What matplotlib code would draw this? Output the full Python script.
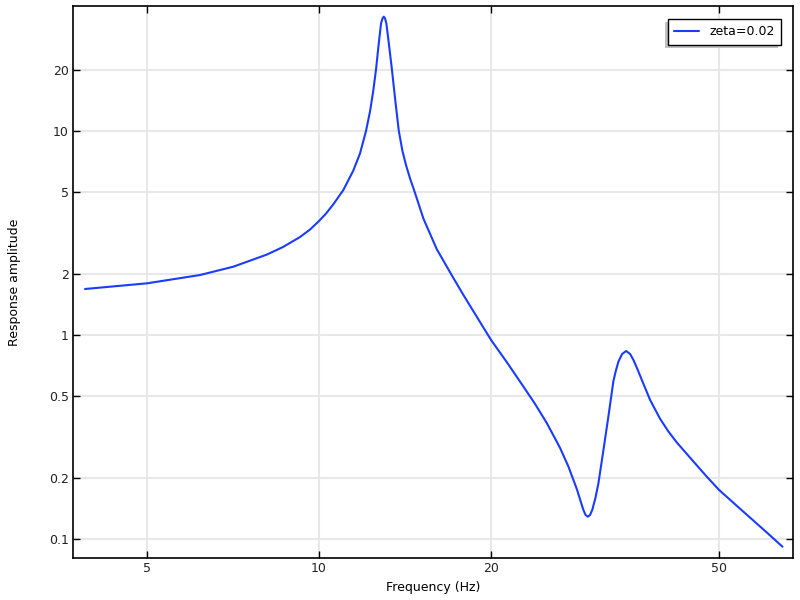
import matplotlib
matplotlib.use("Agg")
import matplotlib.pyplot as plt
from matplotlib.ticker import FixedLocator, FixedFormatter, NullLocator

freq = [3.895, 5.0, 6.19, 7.079, 8.110, 8.650, 9.262, 9.644, 10.0, 10.286, 10.593,
        11.028, 11.482, 11.797, 12.086, 12.284, 12.447, 12.583, 12.72, 12.838, 12.917,
        12.98, 13.048, 13.116, 13.244, 13.41, 13.599, 13.789, 13.988, 14.20, 14.43,
        14.697, 15.225, 16.07, 17.18, 17.89, 18.88, 20.0, 21.30, 22.78, 23.88, 25.03,
        25.88, 26.41, 27.31, 28.25, 29.01, 29.27, 29.53, 29.80, 30.08, 30.45, 30.82,
        31.45, 32.08, 32.74, 33.07, 33.41, 33.91, 34.46, 35.02, 35.49, 36.09, 36.71,
        37.96, 39.53, 40.86, 42.27, 45.19, 47.70, 50.12, 55.27, 60.75, 64.69]
amp = [1.681, 1.792, 1.968, 2.162, 2.481, 2.701, 3.022, 3.289, 3.622, 3.940, 4.372,
       5.137, 6.404, 7.776, 10.03, 12.53, 15.888, 20.13, 26.91, 33.72, 35.69,
       36.34, 35.61, 33.65, 27.01, 20.13, 14.03, 10.03, 8.025, 6.789, 5.85,
       5.04, 3.725, 2.634, 1.903, 1.571, 1.229, 0.945, 0.737, 0.559, 0.4589, 0.3703,
       0.3109, 0.2793, 0.2266, 0.1758, 0.1387, 0.1311, 0.1286, 0.1311, 0.1395, 0.1589, 0.1875,
       0.2731, 0.3977, 0.5949, 0.6699, 0.7414, 0.807, 0.835, 0.807, 0.7543, 0.6775, 0.602,
       0.480, 0.3875, 0.3365, 0.2972, 0.2399, 0.2020, 0.1739, 0.1361, 0.1076, 0.0917]

x_ticks = [5, 10, 20, 50]
x_labels = ["5", "10", "20", "50"]
y_ticks = [0.1, 0.2, 0.5, 1, 2, 5, 10, 20]
y_labels = ["0.1", "0.2", "0.5", "1", "2", "5", "10", "20"]

fig = plt.figure(figsize=(8, 6), dpi=100)
ax = fig.add_axes([73/800, 1-558/600, 720/800, 552/600])
ax.plot(freq, amp, color="#1a3cff", lw=1.5, label="zeta=0.02",
        solid_joinstyle="round", solid_capstyle="round")
ax.set_xscale("log")
ax.set_yscale("log")
ax.set_xlim(3.711, 67.5)
ax.set_ylim(0.0807, 41.0)

ax.xaxis.set_major_locator(FixedLocator(x_ticks))
ax.xaxis.set_major_formatter(FixedFormatter(x_labels))
ax.xaxis.set_minor_locator(NullLocator())
ax.yaxis.set_major_locator(FixedLocator(y_ticks))
ax.yaxis.set_major_formatter(FixedFormatter(y_labels))
ax.yaxis.set_minor_locator(NullLocator())

ax.grid(True, color="#e8e8e8", lw=1.5)
ax.set_axisbelow(True)
ax.tick_params(direction="in", length=5, width=1, top=True, right=True,
               labelsize=9, labelcolor="#222222", pad=3)
for s in ax.spines.values():
    s.set_linewidth(1.2)

ax.set_xlabel("Frequency (Hz)", fontsize=9, labelpad=4)
ax.set_ylabel("Response amplitude", fontsize=9, labelpad=20)

leg = ax.legend(loc="upper right", fontsize=9, fancybox=False, framealpha=1,
                edgecolor="black",
                shadow={"ox": -2.3, "oy": -2.3, "facecolor": "#c0c0c0", "edgecolor": "none", "alpha": 1},
                borderpad=0.5, handlelength=2.0, borderaxespad=0,
                bbox_to_anchor=(0.983, 0.9764))
leg.get_frame().set_linewidth(1.0)

fig.savefig("out.png", dpi=100)
